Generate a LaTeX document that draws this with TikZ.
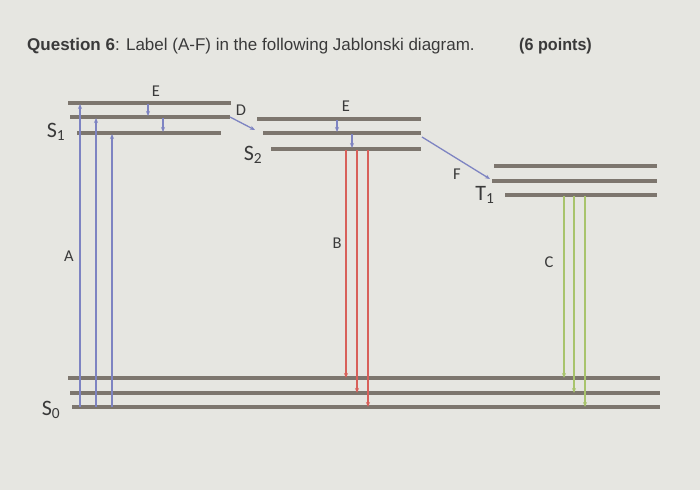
\documentclass[tikz,border=0pt]{standalone}
\usepackage{fontspec}
\setmainfont{Carlito}
\newfontfamily\titlefont{Liberation Sans}
\usetikzlibrary{arrows.meta}
\definecolor{bgc}{HTML}{E6E6E1}
\definecolor{levc}{HTML}{7D766E}
\definecolor{bluec}{HTML}{7E84C2}
\definecolor{redc}{HTML}{D8605A}
\definecolor{greenc}{HTML}{A8C46C}
\definecolor{txtc}{HTML}{3A3A3A}
\tikzset{
  level/.style={levc, line width=3.1pt},
  upblue/.style={bluec, line width=1.3pt, -{Stealth[length=5pt,width=4pt]}},
  relax/.style={bluec, line width=1.3pt, -{Stealth[length=5pt,width=4pt]}},
  fluo/.style={redc, line width=1.3pt, -{Stealth[length=5pt,width=4pt]}},
  phos/.style={greenc, line width=1.3pt, -{Stealth[length=5pt,width=4pt]}},
  lab/.style={text=txtc, font=\fontsize{16.5}{16.5}\selectfont, inner sep=0pt},
  slab/.style={text=txtc, font=\fontsize{22}{22}\selectfont, inner sep=0pt},
}
\begin{document}
\begin{tikzpicture}[x=1pt,y=-1pt]
\fill[bgc] (0,0) rectangle (700,490);
\useasboundingbox (0,0) rectangle (700,490);
% title
\node[anchor=west, inner sep=0pt, text=txtc] (title) at (27,46)
  {\titlefont\fontsize{17}{17}\selectfont\scalebox{1.0}[1]{\textbf{Question 6}: Label (A-F) in the following Jablonski diagram.}};
\node[anchor=west, inner sep=0pt, text=txtc] (points) at (519,46)
  {\titlefont\fontsize{17}{17}\selectfont\scalebox{0.95}[1]{\textbf{(6 points)}}};
% S1 levels
\coordinate (s1a) at (68,103); \coordinate (s1ae) at (231,103);
\coordinate (s1b) at (70,117); \coordinate (s1be) at (230,117);
\coordinate (s1c) at (77,133); \coordinate (s1ce) at (221,133);
\draw[level] (s1a) -- (s1ae);
\draw[level] (s1b) -- (s1be);
\draw[level] (s1c) -- (s1ce);
% S2 levels
\coordinate (s2a) at (257,119); \coordinate (s2ae) at (421,119);
\coordinate (s2b) at (263,133); \coordinate (s2be) at (421,133);
\coordinate (s2c) at (271,149); \coordinate (s2ce) at (421,149);
\draw[level] (s2a) -- (s2ae);
\draw[level] (s2b) -- (s2be);
\draw[level] (s2c) -- (s2ce);
% T1 levels
\coordinate (t1a) at (494,166); \coordinate (t1ae) at (657,166);
\coordinate (t1b) at (492,181); \coordinate (t1be) at (657,181);
\coordinate (t1c) at (505,195); \coordinate (t1ce) at (657,195);
\draw[level] (t1a) -- (t1ae);
\draw[level] (t1b) -- (t1be);
\draw[level] (t1c) -- (t1ce);
% S0 levels
\coordinate (s0a) at (68,378); \coordinate (s0ae) at (660,378);
\coordinate (s0b) at (70,393); \coordinate (s0be) at (660,393);
\coordinate (s0c) at (72,407); \coordinate (s0ce) at (660,407);
\draw[level] (s0a) -- (s0ae);
\draw[level] (s0b) -- (s0be);
\draw[level] (s0c) -- (s0ce);
% A: absorption
\coordinate (a1b) at (80,407); \coordinate (a1t) at (80,104);
\coordinate (a2b) at (96,407); \coordinate (a2t) at (96,118);
\coordinate (a3b) at (112,407); \coordinate (a3t) at (112,134);
\draw[upblue] (a1b) -- (a1t);
\draw[upblue] (a2b) -- (a2t);
\draw[upblue] (a3b) -- (a3t);
% E in S1
\coordinate (e1t) at (148,104); \coordinate (e1b) at (148,116);
\coordinate (e2t) at (163,118); \coordinate (e2b) at (163,132);
\draw[relax] (e1t) -- (e1b);
\draw[relax] (e2t) -- (e2b);
% D
\coordinate (d0) at (230,117); \coordinate (d1) at (255,130);
\draw[relax] (d0) -- (d1);
% E in S2
\coordinate (e3t) at (337,120); \coordinate (e3b) at (337,132);
\coordinate (e4t) at (352,134); \coordinate (e4b) at (352,148);
\draw[relax] (e3t) -- (e3b);
\draw[relax] (e4t) -- (e4b);
% B fluorescence
\coordinate (b1t) at (346,150); \coordinate (b1b) at (346,378);
\coordinate (b2t) at (357,150); \coordinate (b2b) at (357,393);
\coordinate (b3t) at (368,150); \coordinate (b3b) at (368,407);
\draw[fluo] (b1t) -- (b1b);
\draw[fluo] (b2t) -- (b2b);
\draw[fluo] (b3t) -- (b3b);
% F ISC
\coordinate (f0) at (422,137); \coordinate (f1) at (490,179);
\draw[relax] (f0) -- (f1);
% C phosphorescence
\coordinate (c1t) at (564,196); \coordinate (c1b) at (564,378);
\coordinate (c2t) at (574,196); \coordinate (c2b) at (574,393);
\coordinate (c3t) at (585,196); \coordinate (c3b) at (585,407);
\draw[phos] (c1t) -- (c1b);
\draw[phos] (c2t) -- (c2b);
\draw[phos] (c3t) -- (c3b);
% labels
\node[lab] (lE1) at (156,91) {E};
\node[lab] (lD) at (241,110) {D};
\node[lab] (lE2) at (346,106) {E};
\node[lab] (lF) at (457,174) {F};
\node[lab] (lA) at (69,256) {A};
\node[lab] (lB) at (337,243) {B};
\node[lab] (lC) at (549,262) {C};
\node[slab] (lS1) at (56,132) {S\textsubscript{1}};
\node[slab] (lS2) at (253,155) {S\textsubscript{2}};
\node[slab] (lT1) at (485,195) {T\textsubscript{1}};
\node[slab] (lS0) at (51,410) {S\textsubscript{0}};
\end{tikzpicture}
\end{document}
